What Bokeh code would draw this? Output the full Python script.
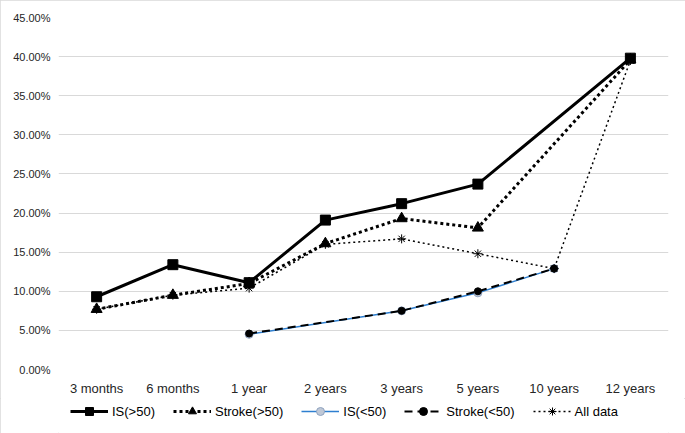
from bokeh.plotting import figure
from bokeh.layouts import column
from bokeh.models import (FactorRange, Range1d, NumeralTickFormatter, FixedTicker,
                          Legend, LegendItem, ColumnDataSource)
from bokeh.embed import file_html
from bokeh.resources import INLINE

categories = ["3 months", "6 months", "1 year", "2 years", "3 years", "5 years", "10 years", "12 years"]

is_over50 = [9.3, 13.4, 11.1, 19.1, 21.2, 23.7, None, 39.8]
stroke_over50 = [7.7, 9.5, 11.0, 16.1, 19.3, 18.1, None, 39.6]
is_under50 = [None, None, 4.5, None, 7.5, 9.8, 12.9, None]
stroke_under50 = [None, None, 4.6, None, 7.5, 10.0, 12.9, None]
all_data = [7.7, 9.5, 10.4, 16.0, 16.7, 14.8, 12.9, 39.5]

series_names = ["IS(>50)", "Stroke(>50)", "IS(<50)", "Stroke(<50)", "All data"]

y_ticks = [0, 5, 10, 15, 20, 25, 30, 35, 40, 45]

FONT = "Liberation Sans"

p = figure(x_range=FactorRange(factors=categories, range_padding=0),
           y_range=Range1d(0, 0.45),
           width=685, height=398,
           min_border_left=58, min_border_right=17, min_border_top=17, min_border_bottom=26,
           output_backend="svg", toolbar_location=None)
p.outline_line_color = None
p.background_fill_color = "white"
p.border_fill_color = "white"

p.yaxis.ticker = FixedTicker(ticks=[t / 100 for t in y_ticks])
p.yaxis.formatter = NumeralTickFormatter(format="0.00%")
p.yaxis.axis_line_color = None
p.yaxis.major_tick_line_color = None
p.yaxis.minor_tick_line_color = None
p.yaxis.major_tick_out = 0
p.yaxis.major_label_standoff = 8
p.yaxis.major_label_text_font = FONT
p.yaxis.major_label_text_font_size = "11px"
p.yaxis.major_label_text_color = "#262626"

p.xaxis.axis_line_color = None
p.xaxis.major_tick_line_color = None
p.xaxis.major_tick_out = 0
p.xaxis.major_label_standoff = 11
p.xaxis.major_label_text_font = FONT
p.xaxis.major_label_text_font_size = "13px"
p.xaxis.major_label_text_color = "#262626"

p.xgrid.grid_line_color = None
p.ygrid.grid_line_color = "#d9d9d9"
p.ygrid.grid_line_width = 1

STYLES = [
    dict(line=dict(line_color="black", line_width=3),
         mark=dict(marker="square", size=10, fill_color="black", line_color="black")),
    dict(line=dict(line_color="black", line_width=3, line_dash="3 3"),
         mark=dict(marker="triangle", size=11, fill_color="black", line_color="black")),
    dict(line=dict(line_color="#2e7fd0", line_width=1.5),
         mark=dict(marker="circle", size=8, fill_color="#bfc8d6", line_color="#8fa3c0")),
    dict(line=dict(line_color="black", line_width=2, line_dash="8 5"),
         mark=dict(marker="circle", size=7, fill_color="black", line_color="black")),
    dict(line=dict(line_color="black", line_width=1.5, line_dash="2 3"),
         mark=dict(marker="asterisk", size=9, line_color="black", line_width=1)),
]


def src(vals):
    xs = [c for c, v in zip(categories, vals) if v is not None]
    ys = [v / 100 for v in vals if v is not None]
    return ColumnDataSource(dict(x=xs, y=ys))


all_series = [is_over50, stroke_over50, is_under50, stroke_under50, all_data]
for vals, st in zip(all_series, STYLES):
    s = src(vals)
    p.line("x", "y", source=s, **st["line"])
    p.scatter("x", "y", source=s, **st["mark"])

# Legend in a separate strip below the chart
pl = figure(width=685, height=35, x_range=Range1d(0, 1), y_range=Range1d(0, 1),
            min_border_left=0, min_border_right=0, min_border_top=0, min_border_bottom=0,
            x_axis_type=None, y_axis_type=None,
            output_backend="svg", toolbar_location=None)
pl.outline_line_color = None
pl.xgrid.grid_line_color = None
pl.ygrid.grid_line_color = None
pl.border_fill_color = "white"

items = []
for name, st in zip(series_names, STYLES):
    offscreen = ColumnDataSource(dict(x=[-10, -9], y=[-10, -10]))
    r1 = pl.line("x", "y", source=offscreen, **st["line"])
    r2 = pl.scatter("x", "y", source=offscreen, **st["mark"])
    items.append(LegendItem(label=name, renderers=[r1, r2], index=0))

legend = Legend(items=items, orientation="horizontal", location=(12, 12),
                glyph_width=38, glyph_height=20, label_height=20,
                label_standoff=4, spacing=18, padding=2, margin=0,
                label_text_font=FONT, label_text_font_size="13px",
                label_text_color="black",
                border_line_color=None, background_fill_alpha=0)
pl.add_layout(legend, "center")

layout = column(p, pl, spacing=0)
layout.styles = {"outline": "1px solid #d9d9d9", "outline-offset": "-1px"}
open("out.html", "w").write(file_html(layout, INLINE))
